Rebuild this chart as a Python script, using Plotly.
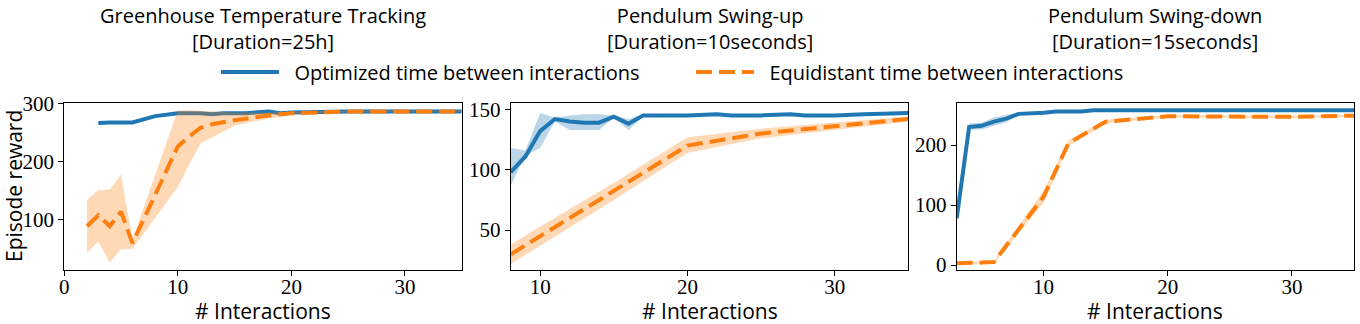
import plotly.graph_objects as go

# ---------------- data ----------------
titles = ["Greenhouse Temperature Tracking<br>[Duration=25h]",
          "Pendulum Swing-up<br>[Duration=10seconds]",
          "Pendulum Swing-down<br>[Duration=15seconds]"]
series_names = ["Optimized time between interactions", "Equidistant time between interactions"]

# Panel 1: Greenhouse
g_opt_x = [3, 4, 6, 8, 10, 12, 13, 14, 16, 17, 18, 19, 20, 25, 30, 35]
g_opt_y = [266, 267, 267, 278, 283, 283, 281, 283, 283, 284, 286, 283, 284, 286, 286, 286]
g_opt_lo = [264, 265, 265, 276, 281, 281, 279, 281, 281, 282, 284, 281, 283, 285, 285, 285]
g_opt_hi = [268, 269, 269, 280, 285, 285, 283, 285, 285, 286, 288, 285, 285, 287, 287, 287]
g_eq_x = [2, 3, 4, 5, 6, 10, 11, 12, 13, 15, 18, 20, 25, 30, 35]
g_eq_y = [89, 108, 89, 114, 60, 226, 243, 258, 264, 271, 279, 283, 286, 286, 286]
g_eq_lo = [43, 63, 27, 50, 50, 157, 195, 231, 242, 262, 274, 280, 285, 285, 285]
g_eq_hi = [134, 151, 152, 178, 66, 288, 288, 287, 286, 284, 284, 286, 287, 287, 287]

# Panel 2: Pendulum swing-up
u_opt_x = [8, 9, 10, 11, 12, 13, 14, 15, 16, 17, 18, 20, 22, 23, 25, 27, 28, 30, 32, 35]
u_opt_y = [98, 111, 132, 142, 140, 139, 139, 144, 138, 145, 145, 145, 146, 145, 145, 146, 145, 145, 146, 147]
u_opt_lo = [87, 112, 118, 140, 133, 133, 133, 143, 133, 144, 144, 144, 145, 144, 144, 145, 144, 144, 145, 146]
u_opt_hi = [118, 116, 147, 143, 145, 146, 146, 145, 142, 146, 146, 146, 147, 146, 146, 147, 146, 146, 147, 148]
u_eq_x = [8, 10, 15, 20, 25, 30, 35]
u_eq_y = [30, 45, 82, 120, 130, 136, 142]
u_eq_lo = [22, 37, 75, 114, 126, 133, 140]
u_eq_hi = [38, 53, 89, 127, 134, 139, 144]

# Panel 3: Pendulum swing-down
d_opt_x = [3, 4, 5, 6, 7, 8, 10, 11, 13, 14, 20, 25, 30, 35]
d_opt_y = [78, 230, 232, 239, 244, 252, 254, 256, 256, 258, 258, 258, 258, 258]
d_opt_lo = [76, 226, 226, 232, 238, 250, 253, 255, 255, 257, 257, 257, 257, 257]
d_opt_hi = [80, 236, 237, 246, 250, 254, 255, 257, 257, 259, 259, 259, 259, 259]
d_eq_x = [3, 4, 5, 6, 10, 12, 15, 20, 25, 30, 35]
d_eq_y = [3, 3, 4, 5, 114, 203, 239, 248, 247, 247, 249]
d_eq_lo = [1, 1, 2, 3, 104, 198, 236, 246, 245, 245, 247]
d_eq_hi = [5, 5, 6, 7, 124, 208, 242, 250, 249, 249, 251]

x_ranges = [[0, 35], [8, 35], [3, 35]]
y_ranges = [[14, 301], [17, 155.5], [-8.3, 270.6]]
x_ticks = [[0, 10, 20, 30], [10, 20, 30], [10, 20, 30]]
y_ticks = [[100, 200, 300], [50, 100, 150], [0, 100, 200]]

panels = [
    (g_opt_x, g_opt_y, g_opt_lo, g_opt_hi, g_eq_x, g_eq_y, g_eq_lo, g_eq_hi),
    (u_opt_x, u_opt_y, u_opt_lo, u_opt_hi, u_eq_x, u_eq_y, u_eq_lo, u_eq_hi),
    (d_opt_x, d_opt_y, d_opt_lo, d_opt_hi, d_eq_x, d_eq_y, d_eq_lo, d_eq_hi),
]

# ---------------- style ----------------
W, H = 1360, 324
BLUE = "#1f77b4"
ORANGE = "#ff7f0e"
BLUE_FILL = "rgba(31,119,180,0.3)"
ORANGE_FILL = "rgba(255,127,14,0.3)"
SANS = "Open Sans"
SERIF = "Liberation Serif"
px_x = [(64.3, 461.7), (510.7, 908.3), (956.7, 1354.0)]
px_y = (102.7, 270.0)
NBSP = "\u00a0" * 2

fig = go.Figure()

for i, (ox, oy, olo, ohi, ex, ey, elo, ehi) in enumerate(panels):
    xa = "x" if i == 0 else f"x{i+1}"
    ya = "y" if i == 0 else f"y{i+1}"
    fig.add_trace(go.Scatter(x=ox + ox[::-1], y=ohi + olo[::-1], fill="toself",
                             fillcolor=BLUE_FILL, line=dict(width=0), mode="lines",
                             hoverinfo="skip", showlegend=False, xaxis=xa, yaxis=ya))
    fig.add_trace(go.Scatter(x=ox, y=oy, mode="lines", name=NBSP + series_names[0],
                             line=dict(color=BLUE, width=4), legendgroup="opt",
                             showlegend=(i == 0), xaxis=xa, yaxis=ya))
    fig.add_trace(go.Scatter(x=ex + ex[::-1], y=ehi + elo[::-1], fill="toself",
                             fillcolor=ORANGE_FILL, line=dict(width=0), mode="lines",
                             hoverinfo="skip", showlegend=False, xaxis=xa, yaxis=ya))
    fig.add_trace(go.Scatter(x=ex, y=ey, mode="lines", name=NBSP + series_names[1],
                             line=dict(color=ORANGE, width=4, dash="16px,7px"), legendgroup="eq",
                             showlegend=(i == 0), xaxis=xa, yaxis=ya))

layout = dict(
    width=W, height=H,
    margin=dict(l=0, r=0, t=0, b=0, autoexpand=False),
    paper_bgcolor="white", plot_bgcolor="white",
    showlegend=True,
    legend=dict(orientation="h", x=216 / W, xanchor="left", y=(H - 72) / H, yanchor="middle",
                itemwidth=58, entrywidth=402,
                font=dict(family=SANS, size=20, color="black"), bgcolor="rgba(0,0,0,0)"),
)

annotations = []
for i in range(3):
    sfx = "" if i == 0 else str(i + 1)
    x0, x1 = px_x[i]
    dom_x = [x0 / W, x1 / W]
    dom_y = [(H - px_y[1]) / H, (H - px_y[0]) / H]
    axis_common = dict(showline=True, linecolor="black", linewidth=1, mirror=True,
                       showgrid=False, zeroline=False, ticks="outside", ticklen=5,
                       tickcolor="black", tickwidth=1, automargin=False,
                       tickfont=dict(family=SERIF, size=21, color="black"))
    layout["xaxis" + sfx] = dict(domain=dom_x, range=x_ranges[i], tickvals=x_ticks[i],
                                 anchor="y" + sfx, ticklabelstandoff=-7, **axis_common)
    layout["yaxis" + sfx] = dict(domain=dom_y, range=y_ranges[i], tickvals=y_ticks[i],
                                 anchor="x" + sfx, **axis_common)
    cx = (x0 + x1) / 2 / W
    annotations.append(dict(text=titles[i], x=cx, y=1.0, xref="paper", yref="paper",
                            xanchor="center", yanchor="top", showarrow=False,
                            font=dict(family=SANS, size=20, color="black")))
    annotations.append(dict(text="# Interactions", x=cx, y=(H - 311) / H, xref="paper", yref="paper",
                            xanchor="center", yanchor="middle", showarrow=False,
                            font=dict(family=SANS, size=21, color="black")))

annotations.append(dict(text="Episode reward", x=14 / W, y=(H - 186) / H, xref="paper", yref="paper",
                        xanchor="center", yanchor="middle", textangle=-90, showarrow=False,
                        font=dict(family=SANS, size=21, color="black")))
layout["annotations"] = annotations

fig.update_layout(**layout)
fig.write_html("out.html", config={"displayModeBar": False},
               post_script="document.body.style.margin='0';document.body.style.overflow='hidden';")
